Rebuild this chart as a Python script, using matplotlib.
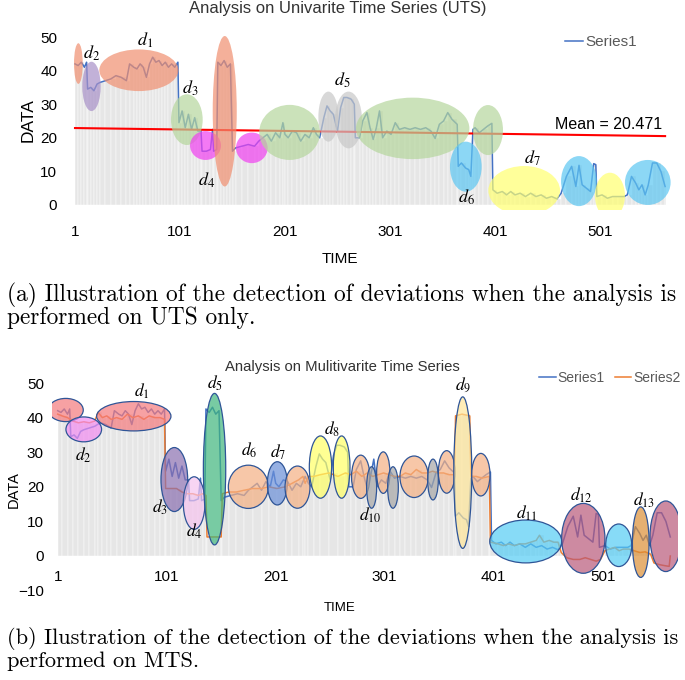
import numpy as np
import matplotlib
matplotlib.use("Agg")
import matplotlib.pyplot as plt
from matplotlib.patches import Ellipse

plt.rcParams['font.family'] = ['Liberation Sans', 'DejaVu Sans']
plt.rcParams['mathtext.fontset'] = 'stix'

# --- data ---
TIME1 = [1, 4, 7, 10, 12, 13, 16, 19, 22, 25, 30, 35, 40, 45, 50, 53, 57, 60, 63, 66,
         69, 72, 75, 78, 81, 84, 87, 90, 93, 96, 99, 100, 103, 106, 109, 112, 115, 118,
         121, 122, 126, 130, 132, 133, 136, 137, 140, 143, 146, 149, 151, 154, 160, 166,
         172, 176, 180, 184, 188, 192, 196, 199, 201, 204, 208, 212, 216, 220, 224, 228,
         231, 234, 238, 241, 244, 247, 251, 254, 257, 260, 264, 267, 268, 272, 275, 279,
         282, 285, 288, 291, 294, 298, 302, 306, 310, 315, 320, 325, 330, 335, 340, 344,
         348, 352, 356, 360, 365, 366, 369, 373, 376, 378, 380, 382, 386, 390, 394, 398,
         399, 403, 408, 412, 416, 420, 425, 430, 435, 440, 445, 450, 455, 460, 464, 469,
         474, 478, 481, 484, 488, 492, 495, 497, 498, 503, 508, 513, 518, 524, 527, 531,
         535, 538, 541, 544, 547, 551, 555, 559, 563]
SERIES1 = [42, 41.5, 42.5, 41, 42.5, 34.5, 35, 34, 36, 36.5, 37, 37.5, 38.5, 38, 37, 42,
           41, 40.5, 42, 41, 38, 42, 44, 42.5, 43, 41.5, 42.5, 41, 42, 41, 42.5, 24.5, 28,
           23, 27, 22.5, 26, 22, 22, 16, 16, 16.5, 22.5, 16, 16.5, 42.5, 41.5, 43, 41, 42,
           16, 17, 17.5, 18, 17.5, 19, 20, 21, 19, 21.5, 20, 24.5, 21, 20, 22, 21.5, 19,
           21, 20, 23, 21, 20, 26, 29.5, 28, 27, 22, 29, 32, 32, 31.5, 30, 20, 20, 25,
           27.5, 23, 19.5, 23, 28, 20, 22, 21, 24.5, 22.5, 23, 22.5, 23, 22.5, 23, 22,
           19.8, 24, 25, 27.5, 25.5, 24, 11.5, 12.5, 11, 10.5, 8.5, 22.5, 23, 21.5, 22.5,
           23.5, 24.3, 4.5, 3.5, 4, 3, 4, 3, 3.5, 2.5, 3.5, 2.5, 3, 2, 2.5, 1.8, 3.5, 8.5,
           11.5, 5.5, 11.8, 6, 5, 4, 12.3, 12, 2.5, 3, 2, 2.5, 2.5, 2.5, 3, 8.5, 6.5, 4.5,
           6, 3, 6, 12.5, 12.5, 10, 5.5]

TIME2 = [1, 5, 10, 15, 20, 25, 30, 35, 38, 42, 46, 50, 55, 60, 65, 70, 75, 80, 85, 90,
         95, 99, 100, 105, 110, 115, 120, 125, 130, 134, 137, 138, 145, 151, 152, 158,
         165, 172, 180, 188, 195, 202, 210, 216, 222, 226, 228, 231, 236, 242, 250, 258,
         265, 270, 275, 280, 285, 290, 295, 300, 305, 310, 315, 320, 325, 330, 335, 340,
         345, 350, 355, 360, 365, 366, 372, 379, 380, 385, 390, 397, 398, 405, 410, 415,
         420, 425, 430, 435, 440, 443, 447, 452, 456, 460, 463, 468, 474, 480, 485, 490,
         495, 499, 503, 507, 512, 516, 520, 525, 530, 535, 540, 545, 548, 553, 558, 562,
         563]
SERIES2 = [41, 40.5, 40, 39, 38.5, 38.8, 38.5, 39, 41.5, 40, 40.5, 39.5, 40, 39.5, 41, 40,
           40.5, 39.5, 40.5, 40, 40, 39.5, 19.5, 19.5, 19.5, 18.5, 18, 18, 17.5, 18, 17.5,
           5.5, 5.5, 5.5, 18, 18.5, 18.5, 19, 19.5, 19.5, 20, 19.5, 20, 21, 22, 23, 21, 23,
           23, 23.5, 24, 23, 24, 23.5, 24.5, 23, 24, 23, 23.5, 24, 23.5, 23, 23, 24, 23.5,
           25, 24, 24, 24.5, 24, 24, 23.5, 23.5, 40.5, 41, 40.5, 23, 23, 22.5, 23, 4, 3.5,
           3, 3.5, 3, 3.5, 3.5, 4, 4.5, 6, 4, 4.5, 4, 4, 1, -0.5, -1, -1, -0.5, -1, -1.5,
           -1, 1.5, 2, 2.5, 1.5, 2, 2, 1.5, 1, 1.2, 0.5, -2, -2.5, -2.8, -3, 0]

TREND_ENDS = [22.9, 20.5]   # red trend line at first / last time step
MEAN_LABEL = "Mean = 20.471"
X_TICKS = [1, 101, 201, 301, 401, 501]

# deviation ellipses: (centre time, centre value, width, height, colour)
TOP_ELLIPSES = [
    (4.2, 42.1, 8.3, 12.1, '#f08f70'), (16.7, 35.3, 17.5, 14.7, '#a891c8'),
    (61.8, 40.1, 75.3, 12.4, '#f08f70'), (107.5, 25.4, 30.2, 15.1, '#b5d69d'),
    (125.3, 17.7, 29.5, 8.6, '#f040f0'), (143.6, 27.9, 22.9, 44.8, '#f08f70'),
    (169.4, 17.0, 30.2, 9.1, '#f040f0'), (205.4, 21.6, 57.9, 16.4, '#b5d69d'),
    (242.3, 26.3, 19.0, 14.9, '#c8c8c8'), (261.5, 25.3, 25.7, 16.9, '#c8c8c8'),
    (322.6, 22.8, 108.0, 18.3, '#b5d69d'), (373.2, 11.4, 30.2, 14.9, '#5cc6f2'),
    (394.3, 22.3, 28.6, 14.9, '#b5d69d'), (428.8, 4.3, 68.3, 14.6, '#ffff70'),
    (480.9, 7.1, 34.0, 14.9, '#5cc6f2'), (510.5, 2.8, 28.6, 13.6, '#ffff70'),
    (546.5, 6.7, 43.5, 13.4, '#5cc6f2'),
]
TOP_LABELS = [(67.7, 49.0, 1), (17.0, 45.2, 2), (110.5, 34.8, 3), (126.7, 7.4, 4),
              (256.0, 37.2, 5), (374.0, 2.4, 6), (437.0, 14.0, 7)]

BOTTOM_ELLIPSES = [
    (8.4, 42.2, 32.1, 6.7, '#f57a7d'), (24.9, 36.6, 32.7, 7.2, '#f28cf0'),
    (70.8, 40.4, 68.2, 8.5, '#f57a7d'), (108.0, 22.1, 24.5, 18.5, '#8a6fb0'),
    (126.2, 15.3, 19.9, 15.2, '#f6c4ee'), (144.9, 25.1, 20.5, 43.8, '#3fb67c'),
    (175.9, 20.0, 36.7, 12.5, '#f4b083'), (202.5, 21.0, 18.3, 12.5, '#6a8fd8'),
    (221.0, 19.9, 22.9, 12.2, '#f4b083'), (242.1, 25.7, 20.5, 18.0, '#ffff66'),
    (261.5, 25.7, 15.3, 18.0, '#ffff66'), (279.0, 22.9, 16.8, 12.5, '#f4b083'),
    (289.0, 19.8, 9.2, 12.0, '#a6a6a6'), (299.7, 24.1, 12.2, 12.0, '#f4b083'),
    (308.6, 19.8, 9.8, 12.0, '#a6a6a6'), (328.0, 22.9, 26.0, 12.0, '#f4b083'),
    (345.3, 22.1, 9.8, 11.8, '#a6a6a6'), (357.9, 24.3, 15.3, 12.3, '#f4b083'),
    (372.6, 24.1, 16.5, 43.8, '#ffe699'), (389.2, 23.5, 16.8, 12.3, '#f4b083'),
    (430.4, 4.2, 66.0, 12.4, '#55cdf5'), (483.2, 5.1, 39.7, 20.2, '#b8587a'),
    (515.7, 3.1, 23.9, 12.3, '#55cdf5'), (535.9, 4.0, 15.3, 20.4, '#dc8f35'),
    (558.9, 5.7, 29.0, 20.4, '#b8587a'),
]
BOTTOM_LABELS = [(78.0, 47.5, 1), (24.5, 29.2, 2), (94.9, 14.2, 3), (126.3, 7.0, 4),
                 (145.3, 50.0, 5), (176.8, 30.6, 6), (203.4, 30.1, 7), (252.4, 36.6, 8),
                 (373.0, 49.4, 9), (287.5, 11.8, 10), (431.3, 12.3, 11), (481.7, 17.6, 12),
                 (539.2, 16.2, 13)]

CAPTION_A = ['(a) Illustration of the detection of deviations when the analysis is',
             'performed on UTS only.']
CAPTION_B = ['(b) Ilustration of the detection of the deviations when the analysis is',
             'performed on MTS.']

BLUE = '#4472C4'
ORANGE = '#ED7D31'


def gray_columns(ax, t, v):
    t = np.asarray(t, float)
    v = np.clip(np.asarray(v, float), 0, None)
    w = np.append(np.diff(t), 1.0)
    ax.bar(t, v, width=w, align='edge', color='#e6e6e6', edgecolor='white',
           linewidth=0.3, zorder=1)


def style_axes(ax, yticks, xpad, ypad):
    for s in ax.spines.values():
        s.set_visible(False)
    ax.set_xticks(X_TICKS)
    ax.set_yticks(yticks)
    ax.tick_params(axis='x', length=0, labelsize=11, pad=xpad)
    ax.tick_params(axis='y', length=0, labelsize=11, pad=ypad)
    ax.set_xlim(-4, 570)


def caption(fig, lines, y1, y2, x0=7, x1=678):
    # first line set as a justified paragraph line: fit its width to the column
    t1 = fig.text(x0 / W, 1 - y1 / H, lines[0], fontsize=16, family='cmr10',
                  ha='left', va='center')
    r = fig.canvas.get_renderer()
    width = t1.get_window_extent(r).width
    size = 16 * (x1 - x0) / width
    t1.set_fontsize(size)
    fig.text(x0 / W, 1 - y2 / H, lines[1], fontsize=size, family='cmr10',
             ha='left', va='center')


fig = plt.figure(figsize=(6.85, 6.8), dpi=100)
W, H = 685.0, 680.0

# ---------- (a) univariate ----------
ax1 = fig.add_axes([69.75 / W, 1 - 210.0 / H, (672.45 - 69.75) / W, (210.0 - 30.3) / H])
gray_columns(ax1, TIME1, SERIES1)
ax1.plot(TIME1, SERIES1, color=BLUE, lw=1.1, zorder=3, label='Series1')
ax1.plot([TIME1[0], TIME1[-1]], TREND_ENDS, color='#ff0000', lw=1.5, zorder=4)
for cx, cy, w, h, c in TOP_ELLIPSES:
    ax1.add_patch(Ellipse((cx, cy), w, h, facecolor=c, edgecolor='none', alpha=0.7, zorder=5))
for x, y, n in TOP_LABELS:
    ax1.text(x, y, r'$d_{%d}$' % n, fontsize=13, ha='center', va='center', zorder=6)
ax1.text(509, 24.1, MEAN_LABEL, fontsize=11.5, ha='center', va='center', zorder=6)
style_axes(ax1, [0, 10, 20, 30, 40, 50], xpad=11, ypad=9)
ax1.set_ylim(-1.5, 52)
ax1.legend(loc='center left', bbox_to_anchor=(565 / W, 1 - 42 / H),
           bbox_transform=fig.transFigure, frameon=False, fontsize=11, borderpad=0,
           borderaxespad=0, handlelength=1.2, handletextpad=0.15, labelcolor='#595959')
fig.text(338 / W, 1 - 8 / H, 'Analysis on Univarite Time Series (UTS)', fontsize=12,
         ha='center', va='center', color='#333333')
fig.text(28 / W, 1 - 120 / H, 'DATA', fontsize=12.5, rotation=90, ha='center', va='center')
fig.text(340 / W, 1 - 259 / H, 'TIME', fontsize=11, ha='center', va='center')

# ---------- (b) multivariate ----------
ax2 = fig.add_axes([52.25 / W, 1 - 597.5 / H, (677.9 - 52.25) / W, (597.5 - 376.1) / H])
gray_columns(ax2, TIME2, SERIES2)
ax2.plot(TIME1, SERIES1, color=BLUE, lw=1.1, zorder=3, label='Series1')
ax2.plot(TIME2, SERIES2, color=ORANGE, lw=1.1, zorder=3, label='Series2')
for cx, cy, w, h, c in BOTTOM_ELLIPSES:
    ax2.add_patch(Ellipse((cx, cy), w, h, facecolor=c, edgecolor='none', alpha=0.7, zorder=5))
    ax2.add_patch(Ellipse((cx, cy), w, h, facecolor='none', edgecolor='#2f5597', lw=0.9, zorder=5))
for x, y, n in BOTTOM_LABELS:
    ax2.text(x, y, r'$d_{%d}$' % n, fontsize=12.5, ha='center', va='center', zorder=6,
             clip_on=False)
style_axes(ax2, [-10, 0, 10, 20, 30, 40, 50], xpad=10, ypad=6)
ax2.spines['bottom'].set_position(('data', 0))
ax2.set_ylim(-12, 52)
ax2.legend(loc='center left', bbox_to_anchor=(539 / W, 1 - 378 / H),
           bbox_transform=fig.transFigure, frameon=False, fontsize=10, ncol=2,
           borderpad=0, borderaxespad=0, handlelength=1.2, handletextpad=0.15,
           columnspacing=0.7, labelcolor='#595959')
fig.text(342 / W, 1 - 367 / H, 'Analysis on Mulitivarite Time Series', fontsize=10.7,
         ha='center', va='center', color='#333333')
fig.text(14 / W, 1 - 490 / H, 'DATA', fontsize=10.5, rotation=90, ha='center', va='center')
fig.text(340 / W, 1 - 608 / H, 'TIME', fontsize=9.5, ha='center', va='center')

# ---------- captions ----------
caption(fig, CAPTION_A, 295, 318)
caption(fig, CAPTION_B, 638, 661)

fig.savefig('out.png', dpi=100)
